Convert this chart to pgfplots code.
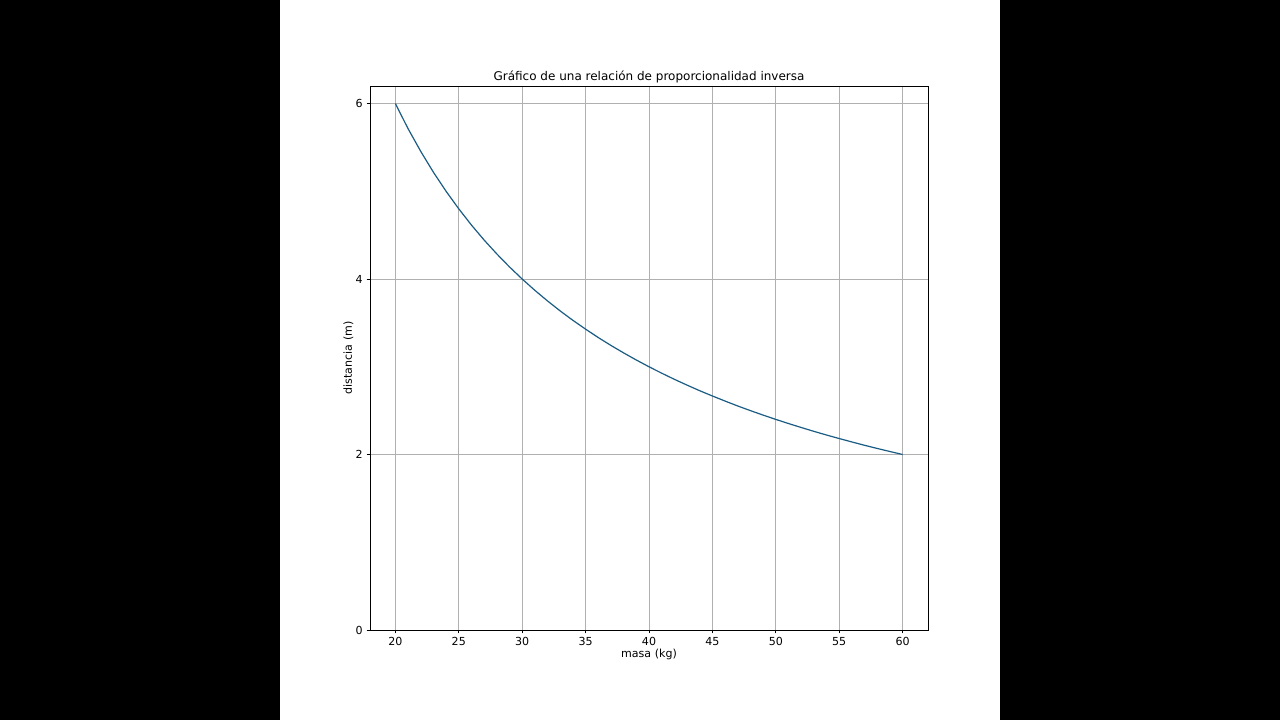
\documentclass[border=0pt]{standalone}
\usepackage{pgfplots}
\pgfplotsset{compat=1.18}
\usepackage{fontspec}
\setmainfont{DejaVu Sans}
\definecolor{curve}{RGB}{26,92,132}
\definecolor{gridgray}{RGB}{176,176,176}
\begin{document}
\fontsize{8.3}{10}\selectfont
\begin{tikzpicture}
  % page 1280x720 px, 1px = 0.75pt
  \useasboundingbox (0pt,0pt) rectangle (960pt,540pt);
  \fill[black] (0pt,0pt) rectangle (210pt,540pt);
  \fill[white] (210pt,0pt) rectangle (750pt,540pt);
  \fill[black] (750pt,0pt) rectangle (960pt,540pt);
  \begin{axis}[
      at={(277.5pt,67.5pt)}, anchor=south west,
      scale only axis,
      width=418.5pt, height=408pt,
      xmin=18, xmax=62, ymin=0, ymax=6.2,
      xtick={20,25,...,60}, ytick={0,2,4,6},
      grid=major,
      major grid style={gridgray, line width=0.6pt},
      axis line style={black, line width=0.6pt},
      tick align=outside,
      tick pos=left,
      major tick length=2.6pt,
      tick style={black, line width=0.6pt},
      /pgf/number format/assume math mode=true,
      ticklabel style={font=\fontsize{8.3}{10}\selectfont},
      title={Gráfico de una relación de proporcionalidad inversa},
      title style={font=\fontsize{9.0}{11}\selectfont, yshift=-6.5pt},
      xlabel={masa (kg)},
      ylabel={distancia (m)},
      label style={font=\fontsize{8.3}{10}\selectfont},
      xlabel style={yshift=3pt},
      ylabel style={yshift=-4pt},
  ]
  \addplot[curve, line width=0.9pt] coordinates {
      (20,6.000) (21,5.714) (22,5.455) (23,5.217) (24,5.000)
      (25,4.800) (26,4.615) (27,4.444) (28,4.286) (29,4.138)
      (30,4.000) (31,3.871) (32,3.750) (33,3.636) (34,3.529)
      (35,3.429) (36,3.333) (37,3.243) (38,3.158) (39,3.077)
      (40,3.000) (41,2.927) (42,2.857) (43,2.791) (44,2.727)
      (45,2.667) (46,2.609) (47,2.553) (48,2.500) (49,2.449)
      (50,2.400) (51,2.353) (52,2.308) (53,2.264) (54,2.222)
      (55,2.182) (56,2.143) (57,2.105) (58,2.069) (59,2.034)
      (60,2.000)
  };
  \end{axis}
\end{tikzpicture}
\end{document}
